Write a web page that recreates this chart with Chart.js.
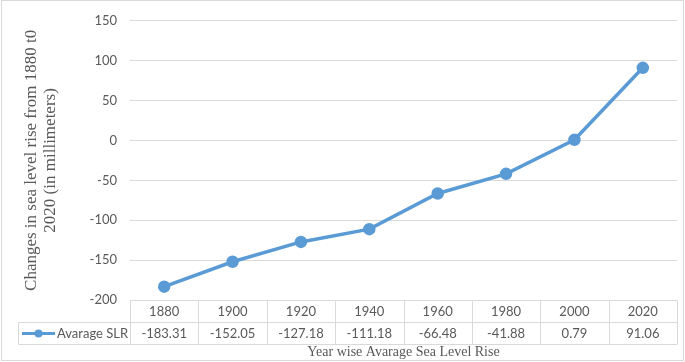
<!DOCTYPE html>
<html>
<head>
<meta charset="utf-8">
<script src="https://cdn.jsdelivr.net/npm/chart.js@4.4.0/dist/chart.umd.min.js"></script>
<style>
  html, body { margin: 0; padding: 0; background: #fff; }
  #wrap { width: 685px; height: 362px; }
</style>
</head>
<body>
<div id="wrap"><canvas id="chart"></canvas></div>
<script>
const years = ['1880', '1900', '1920', '1940', '1960', '1980', '2000', '2020'];
const slr = [-183.31, -152.05, -127.18, -111.18, -66.48, -41.88, 0.79, 91.06];
const slrLabels = ['-183.31', '-152.05', '-127.18', '-111.18', '-66.48', '-41.88', '0.79', '91.06'];
const yMin = -200, yMax = 150, yStep = 50;
const seriesName = 'Avarage SLR';
const yTitle = ['Changes in sea level rise from 1880 t0', '2020 (in millimeters)'];
const xTitle = 'Year wise Avarage Sea Level Rise';

const blue = '#5B9BD5';
const gridCol = '#d9d9d9';
const textCol = '#595959';
const sans = 'Lato, "Noto Sans", sans-serif';
const serif = '"Liberation Serif", "DejaVu Serif", serif';

// draws the Excel-style data table, axis titles and frame
const tablePlugin = {
  id: 'dataTable',
  afterDraw(chart) {
    const { ctx, chartArea: a, scales: { x } } = chart;
    const colW = (a.right - a.left) / years.length;
    const top = Math.round(a.bottom) + 0.5;
    const mid = top + 22;
    const bot = top + 44;
    const legLeft = 18.5;

    ctx.save();
    ctx.strokeStyle = gridCol;
    ctx.lineWidth = 1;
    ctx.beginPath();
    ctx.moveTo(a.left, top); ctx.lineTo(a.right, top);
    ctx.moveTo(legLeft, mid); ctx.lineTo(a.right, mid);
    ctx.moveTo(legLeft, bot); ctx.lineTo(a.right, bot);
    ctx.moveTo(legLeft, mid); ctx.lineTo(legLeft, bot);
    for (let i = 0; i <= years.length; i++) {
      const xp = Math.round(a.left + i * colW) + 0.5;
      ctx.moveTo(xp, top); ctx.lineTo(xp, bot);
    }
    ctx.stroke();

    ctx.fillStyle = textCol;
    ctx.font = '13px ' + sans;
    ctx.textAlign = 'center';
    ctx.textBaseline = 'middle';
    years.forEach((yr, i) => {
      const cx = x.getPixelForValue(i);
      ctx.fillText(yr, cx, top + 11);
      ctx.fillText(slrLabels[i], cx, mid + 11);
    });

    // legend key in the table
    const ly = mid + 11;
    ctx.strokeStyle = blue;
    ctx.lineWidth = 3;
    ctx.beginPath();
    ctx.moveTo(22, ly); ctx.lineTo(55, ly);
    ctx.stroke();
    ctx.fillStyle = blue;
    ctx.beginPath();
    ctx.arc(38.5, ly, 4, 0, Math.PI * 2);
    ctx.fill();
    ctx.fillStyle = textCol;
    ctx.textAlign = 'left';
    ctx.fillText(seriesName, 57, ly);

    // x title
    ctx.font = '14px ' + serif;
    ctx.textAlign = 'center';
    ctx.fillText(xTitle, (a.left + a.right) / 2, bot + 8);

    // y title
    ctx.font = '17px ' + serif;
    ctx.translate(32, (a.top + a.bottom) / 2);
    ctx.rotate(-Math.PI / 2);
    ctx.fillText(yTitle[0], 0, 0);
    ctx.fillText(yTitle[1], 0, 19);
    ctx.setTransform(1, 0, 0, 1, 0, 0);

    // outer frame
    ctx.strokeStyle = gridCol;
    ctx.lineWidth = 1;
    ctx.strokeRect(1.5, 0.5, 682, 360);
    ctx.restore();
  }
};

new Chart(document.getElementById('chart'), {
  type: 'line',
  data: {
    labels: years,
    datasets: [{
      label: seriesName,
      data: slr,
      borderColor: blue,
      backgroundColor: blue,
      borderWidth: 3.5,
      pointRadius: 4.5,
      pointHoverRadius: 4.5,
      tension: 0,
      fill: false
    }]
  },
  options: {
    responsive: true,
    maintainAspectRatio: false,
    animation: false,
    layout: { padding: { top: 17, bottom: 62, right: 8, left: 0 } },
    plugins: {
      legend: { display: false },
      tooltip: { enabled: false }
    },
    scales: {
      x: {
        type: 'category',
        offset: true,
        display: false
      },
      y: {
        min: yMin,
        max: yMax,
        afterFit(scale) { scale.width = 130; },
        ticks: {
          stepSize: yStep,
          color: textCol,
          padding: 13,
          font: { family: sans, size: 13 }
        },
        grid: { color: gridCol, drawTicks: false },
        border: { display: false }
      }
    }
  },
  plugins: [tablePlugin]
});
</script>
</body>
</html>
